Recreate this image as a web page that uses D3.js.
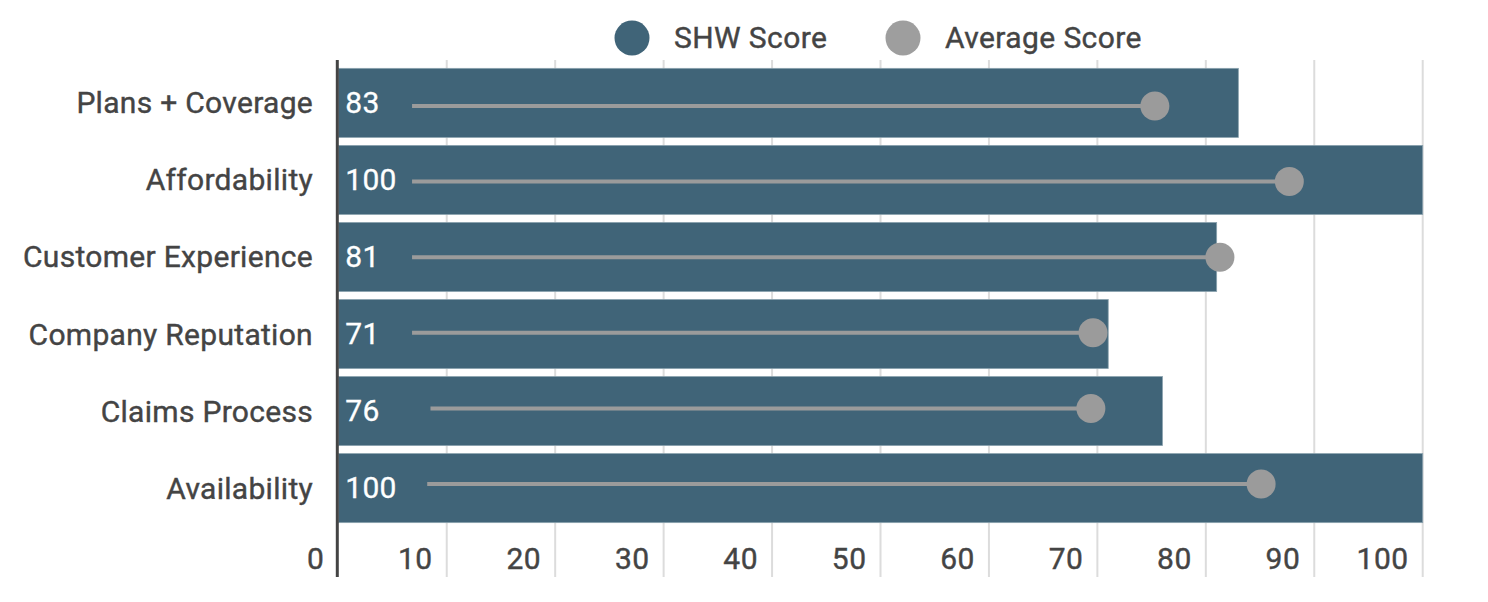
<!DOCTYPE html>
<html>
<head>
<meta charset="utf-8">
<script src="https://cdn.jsdelivr.net/npm/d3@7"></script>
<style>
  html, body { margin: 0; padding: 0; background: #fff; }
  svg { display: block; font-family: Roboto, "Noto Sans", sans-serif; }
</style>
</head>
<body>
<svg id="chart" width="1488" height="602"></svg>
<script>
const categories = ["Plans + Coverage", "Affordability", "Customer Experience", "Company Reputation", "Claims Process", "Availability"];
const shwScores = [83, 100, 81, 71, 76, 100];
const averageScores = [75.3, 87.7, 81.3, 69.6, 69.4, 85.1];
const lineStarts = [6.8, 6.8, 6.8, 6.8, 8.5, 8.2];
const xTicks = [0, 10, 20, 30, 40, 50, 60, 70, 80, 90, 100];
const legendLabels = ["SHW Score", "Average Score"];

const barColor = "#406478";
const dotColor = "#9b9b9b";
const textColor = "#444";

const svg = d3.select("#chart");
const x = d3.scaleLinear().domain([0, 100]).range([338.3, 1422.7]);
const y = d3.scaleBand().domain(categories).range([64.5, 526.5]).paddingInner(0.104).paddingOuter(0.05);
const yDot = d3.scalePoint().domain(categories).range([106, 484]);

// gridlines
svg.append("g").selectAll("line").data(xTicks.filter(d => d > 0)).join("line")
  .attr("x1", d => x(d)).attr("x2", d => x(d))
  .attr("y1", 60).attr("y2", 577)
  .attr("stroke", "#dcdcdc").attr("stroke-width", 2);

// bars
svg.append("g").selectAll("rect").data(categories).join("rect")
  .attr("x", x(0))
  .attr("y", d => y(d))
  .attr("width", (d, i) => x(shwScores[i]) - x(0))
  .attr("height", y.bandwidth())
  .attr("fill", barColor)
  .attr("stroke", "#8aa2ae").attr("stroke-width", 0.8);

// value labels
svg.append("g").selectAll("text").data(categories).join("text")
  .attr("x", x(0) + 7)
  .attr("y", d => y(d) + y.bandwidth() / 2 + 10)
  .attr("fill", "#fff")
  .attr("stroke", "#fff").attr("stroke-width", 0.3)
  .attr("font-size", 30)
  .attr("letter-spacing", 0.3)
  .text((d, i) => shwScores[i]);

// dumbbell lines
svg.append("g").selectAll("line").data(categories).join("line")
  .attr("x1", (d, i) => x(lineStarts[i]))
  .attr("x2", (d, i) => x(averageScores[i]))
  .attr("y1", d => yDot(d))
  .attr("y2", d => yDot(d))
  .attr("stroke", dotColor).attr("stroke-width", 4);

// dots
svg.append("g").selectAll("circle").data(categories).join("circle")
  .attr("cx", (d, i) => x(averageScores[i]))
  .attr("cy", d => yDot(d))
  .attr("r", 14.5)
  .attr("fill", dotColor);

// y axis labels
svg.append("g").selectAll("text").data(categories).join("text")
  .attr("x", 313)
  .attr("y", d => y(d) + y.bandwidth() / 2 + 10.5)
  .attr("text-anchor", "end")
  .attr("fill", textColor)
  .attr("stroke", textColor).attr("stroke-width", 0.4)
  .attr("font-size", 30)
  .attr("letter-spacing", 0.3)
  .text(d => d);

// x tick labels
svg.append("g").selectAll("text").data(xTicks).join("text")
  .attr("x", d => x(d) - 14)
  .attr("y", 569)
  .attr("text-anchor", "end")
  .attr("fill", textColor)
  .attr("stroke", textColor).attr("stroke-width", 0.4)
  .attr("font-size", 30)
  .attr("letter-spacing", 0.5)
  .text(d => d);

// axis line
svg.append("line")
  .attr("x1", x(0) - 1).attr("x2", x(0) - 1)
  .attr("y1", 60).attr("y2", 577)
  .attr("stroke", "#444").attr("stroke-width", 3);

// legend
const legend = svg.append("g");
const legendX = [632, 903];
const legendColors = [barColor, "#9e9e9e"];
legendLabels.forEach((lab, i) => {
  legend.append("circle").attr("cx", legendX[i]).attr("cy", 38).attr("r", 17.5).attr("fill", legendColors[i]);
  legend.append("text").attr("x", legendX[i] + 42).attr("y", 48)
    .attr("fill", textColor).attr("stroke", textColor).attr("stroke-width", 0.4)
    .attr("font-size", 30).attr("letter-spacing", 0.4).text(lab);
});
</script>
</body>
</html>
